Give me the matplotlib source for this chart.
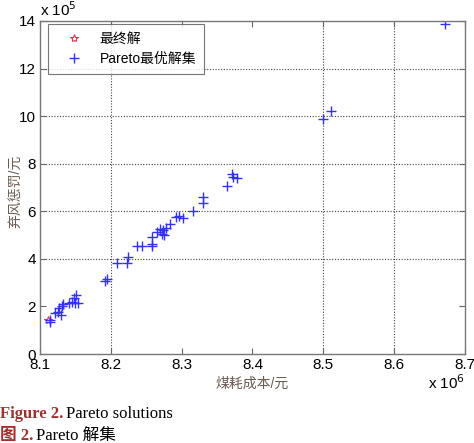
import numpy as np
import matplotlib.pyplot as plt

# 煤耗成本 (x 10^6 元) 与 弃风惩罚 (x 10^5 元)
coal_cost = [8.1141, 8.1141, 8.1212, 8.1259, 8.1292, 8.1273, 8.1306, 8.1320,
             8.1414, 8.1457, 8.1490, 8.1532, 8.1485, 8.1508, 8.1918, 8.1942,
             8.2092, 8.2224, 8.2239, 8.2365, 8.2436, 8.2577, 8.2577, 8.2577,
             8.2657, 8.2695, 8.2742, 8.2780, 8.2719, 8.2751, 8.2836, 8.2921,
             8.2968, 8.3024, 8.3166, 8.3298, 8.3307, 8.3637, 8.3716, 8.3787,
             8.3730, 8.4993, 8.5106, 8.6720]
wind_penalty = [1.45, 1.36, 1.74, 1.78, 1.64, 1.92, 2.02, 2.10,
                2.16, 2.20, 2.16, 2.16, 2.37, 2.48, 3.08, 3.14,
                3.84, 3.81, 4.09, 4.56, 4.54, 4.54, 4.93, 4.62,
                5.14, 5.24, 5.21, 5.28, 5.04, 5.00, 5.46, 5.77,
                5.80, 5.70, 6.01, 6.58, 6.33, 7.06, 7.56, 7.38,
                7.45, 9.90, 10.21, 13.87]

final_cost = [8.1112]
final_penalty = [1.42]

x_ticks = [8.1, 8.2, 8.3, 8.4, 8.5, 8.6, 8.7]
y_ticks = [0, 2, 4, 6, 8, 10, 12, 14]
x_grid = [8.2, 8.5, 8.6]
y_grid = [4, 6, 8, 10, 12]

plt.rcParams['font.family'] = ['Liberation Sans', 'Noto Sans CJK SC']

fig = plt.figure(figsize=(4.74, 4.43), dpi=100)
ax = fig.add_axes([0.0844, 0.2009, 0.8966, 0.7517])

for gx in x_grid:
    ax.axvline(gx, color='#444444', linestyle=(0, (1, 1.5)), lw=0.8, zorder=0)
for gy in y_grid:
    ax.axhline(gy, color='#444444', linestyle=(0, (1, 1.5)), lw=0.8, zorder=0)

ax.plot(final_cost, final_penalty, linestyle='none', marker='*', ms=6,
        mfc='none', mec='#ee3355', mew=0.8, label='最终解')
ax.plot(coal_cost, wind_penalty, linestyle='none', marker='+', ms=7.5,
        color='#3333ee', mew=1.0, label='Pareto最优解集')

ax.set_xlim(8.1, 8.7)
ax.set_ylim(0, 14)
ax.set_xticks(x_ticks)
ax.set_yticks(y_ticks)
ax.set_xticklabels([f'{v:.1f}' for v in x_ticks])
ax.set_yticklabels([str(v) for v in y_ticks])
ax.tick_params(direction='in', top=True, right=True, labelsize=11,
               length=4, color='#666666', pad=3)
for sp in ax.spines.values():
    sp.set_color('#777777')
    sp.set_linewidth(1.0)

leg = ax.legend(loc='upper left', bbox_to_anchor=(0.019, 0.991), fontsize=10,
                frameon=True, fancybox=False, borderpad=0.6, handletextpad=0.5,
                labelspacing=0.37, handlelength=2.6, borderaxespad=0.0)
leg.get_frame().set_edgecolor('#555555')
leg.get_frame().set_linewidth(0.8)

ax.set_xlabel('煤耗成本/元', fontsize=10, color='#6a5a50', labelpad=3)
fig.text(0.032, 0.567, '弃风惩罚/元', fontsize=10, color='#6a5a50',
         rotation=90, ha='center', va='center')

fig.text(0.0844, 0.957, 'x 10$^5$', fontsize=11, ha='left', va='bottom')
fig.text(0.981, 0.115, 'x 10$^6$', fontsize=11, ha='right', va='bottom')

serif = ['Liberation Serif', 'Noto Sans CJK SC']
fig.text(0.0, 0.065, 'Figure 2.', fontsize=12, fontweight='bold',
         color='#a03030', family=serif, va='center')
fig.text(0.139, 0.065, 'Pareto solutions', fontsize=12, family=serif, va='center')
fig.text(0.0, 0.016, '图 2.', fontsize=12, fontweight='bold',
         color='#a03030', family=serif, va='center')
fig.text(0.076, 0.016, 'Pareto 解集', fontsize=12, family=serif, va='center')

fig.savefig('out.png', dpi=100)
